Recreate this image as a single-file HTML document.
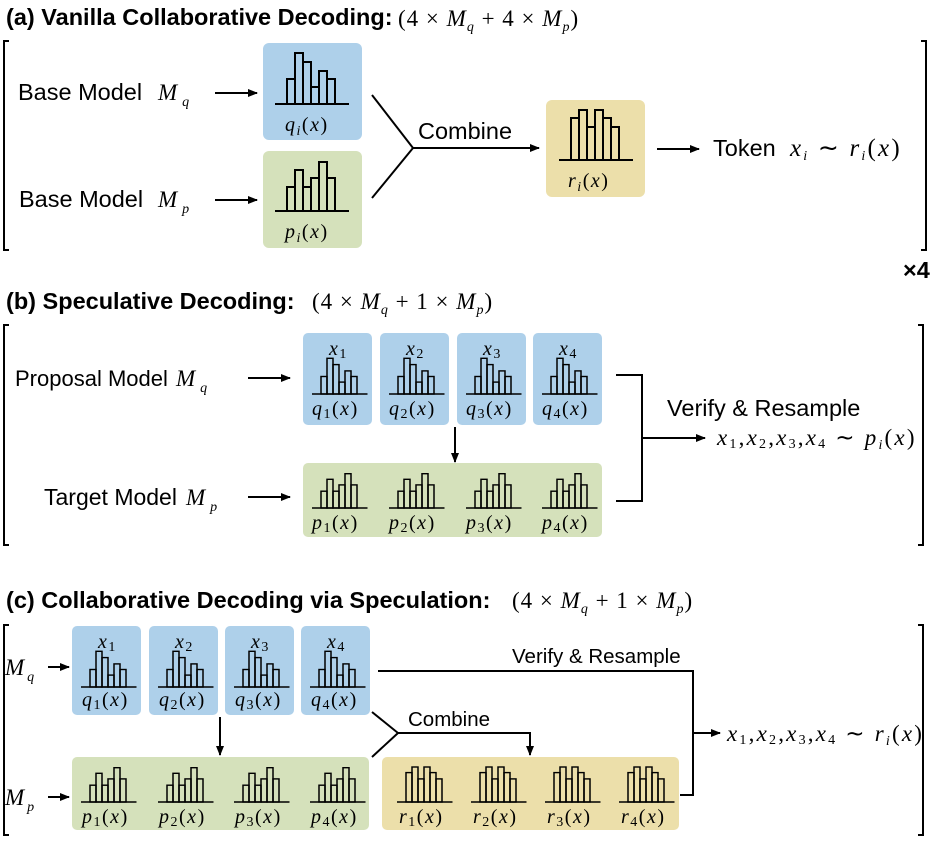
<!DOCTYPE html>
<html><head><meta charset="utf-8"><style>
body{margin:0;background:#fff}
svg{display:block}
.t{font-family:"Liberation Sans",sans-serif;font-weight:bold;font-size:23.5px}
.s{font-family:"Liberation Sans",sans-serif;font-size:23.5px}
.m{font-family:"Liberation Serif",serif;font-style:italic;font-size:23px;letter-spacing:1px}
.mw{letter-spacing:2.2px}
.mr{font-family:"Liberation Serif",serif;font-size:23px;letter-spacing:1px}
.b{font-size:20px;letter-spacing:1.5px}
.sm{font-size:14px;font-style:normal}
.si{font-size:14px}
.h rect{fill:none;stroke:#000;stroke-width:2}
.h line{stroke:#000;stroke-width:2}
</style></head><body>
<svg width="932" height="841" viewBox="0 0 932 841" xmlns="http://www.w3.org/2000/svg">
<defs>
<marker id="ar" markerWidth="10" markerHeight="8" refX="9" refY="4" orient="auto" markerUnits="userSpaceOnUse"><path d="M0,0 L10,4 L0,8 z" fill="#000"/></marker>
<g id="hq" class="h"><rect x="0" y="-25" width="8" height="25"/><rect x="8" y="-51" width="8" height="51"/><rect x="16" y="-42" width="8" height="42"/><rect x="24" y="-17" width="8" height="17"/><rect x="32" y="-33" width="8" height="33"/><rect x="40" y="-25" width="8" height="25"/><line x1="-12" y1="0" x2="62" y2="0"/></g>
<g id="hp" class="h"><rect x="0" y="-24" width="8" height="24"/><rect x="8" y="-41" width="8" height="41"/><rect x="16" y="-24" width="8" height="24"/><rect x="24" y="-33" width="8" height="33"/><rect x="32" y="-49" width="8" height="49"/><rect x="40" y="-33" width="8" height="33"/><line x1="-12" y1="0" x2="62" y2="0"/></g>
<g id="hr" class="h"><rect x="0" y="-42" width="8" height="42"/><rect x="8" y="-50" width="8" height="50"/><rect x="16" y="-33" width="8" height="33"/><rect x="24" y="-50" width="8" height="50"/><rect x="32" y="-42" width="8" height="42"/><rect x="40" y="-33" width="8" height="33"/><line x1="-12" y1="0" x2="62" y2="0"/></g>
</defs>
<g stroke="#000" stroke-width="2" fill="none">
<path d="M9,41H4V250H9"/><path d="M921,41H926V250H921"/>
<path d="M9,325H4V545H9"/><path d="M918,325H923V545H918"/>
<path d="M9,625H4V835H9"/><path d="M918,625H923V835H918"/>
</g>
<!-- (a) -->
<text class="t" x="6" y="25">(a) Vanilla Collaborative Decoding:</text>
<text class="mr" x="398" y="26">(4 × <tspan font-style="italic">M</tspan><tspan class="si" font-style="italic" dy="5">q</tspan><tspan dy="-5"> + 4 × </tspan><tspan font-style="italic">M</tspan><tspan class="si" font-style="italic" dy="5">p</tspan><tspan dy="-5">)</tspan></text>
<rect x="263" y="43" width="99" height="97" rx="6" fill="#aed0ea"/>
<rect x="263" y="151" width="99" height="97" rx="6" fill="#d5e1bb"/>
<rect x="546" y="100" width="99" height="97" rx="6" fill="#ecdfaa"/>
<use href="#hq" x="287" y="104"/>
<use href="#hp" x="287" y="211"/>
<use href="#hr" x="571" y="160"/>
<text class="m b" x="285" y="131">q<tspan class="si" dy="4">i</tspan><tspan dy="-4" font-style="normal">(</tspan>x<tspan font-style="normal">)</tspan></text>
<text class="m b" x="285" y="238">p<tspan class="si" dy="4">i</tspan><tspan dy="-4" font-style="normal">(</tspan>x<tspan font-style="normal">)</tspan></text>
<text class="m b" x="568" y="187">r<tspan class="si" dy="4">i</tspan><tspan dy="-4" font-style="normal">(</tspan>x<tspan font-style="normal">)</tspan></text>
<text class="s" x="18" y="100">Base Model</text>
<text class="m" x="158" y="100">M<tspan class="si" dx="4" dy="6">q</tspan></text>
<text class="s" x="19" y="207">Base Model</text>
<text class="m" x="158" y="207">M<tspan class="si" dx="4" dy="6">p</tspan></text>
<g stroke="#000" stroke-width="2" fill="none">
<path d="M215,93H257" marker-end="url(#ar)"/>
<path d="M215,200H257" marker-end="url(#ar)"/>
<path d="M372,95L413,148L372,198M413,148H535"/><path d="M500,148H539" marker-end="url(#ar)"/>
<path d="M657,149H699" marker-end="url(#ar)"/>
</g>
<text class="s" x="418" y="139">Combine</text>
<text class="s" x="713" y="156">Token</text>
<text class="m mw" x="790" y="156" style="font-size:25px">x<tspan class="si" dy="4">i</tspan><tspan dy="-4" font-style="normal"> ∼ </tspan>r<tspan class="si" dy="4">i</tspan><tspan dy="-4" font-style="normal">(</tspan>x<tspan font-style="normal">)</tspan></text>
<text class="t" x="903" y="278">×4</text>
<!-- (b) -->
<text class="t" x="6" y="309">(b) Speculative Decoding:</text>
<text class="mr" x="312" y="309">(4 × <tspan font-style="italic">M</tspan><tspan class="si" font-style="italic" dy="5">q</tspan><tspan dy="-5"> + 1 × </tspan><tspan font-style="italic">M</tspan><tspan class="si" font-style="italic" dy="5">p</tspan><tspan dy="-5">)</tspan></text>
<text class="s" x="15" y="386" style="font-size:22px">Proposal Model</text>
<text class="m" x="176" y="386">M<tspan class="si" dx="4" dy="6">q</tspan></text>
<text class="s" x="44" y="505" style="font-size:23px">Target Model</text>
<text class="m" x="186" y="505">M<tspan class="si" dx="4" dy="6">p</tspan></text>
<rect x="303" y="333" width="69" height="92" rx="5" fill="#aed0ea"/>
<rect x="380" y="333" width="69" height="92" rx="5" fill="#aed0ea"/>
<rect x="457" y="333" width="69" height="92" rx="5" fill="#aed0ea"/>
<rect x="533" y="333" width="69" height="92" rx="5" fill="#aed0ea"/>
<rect x="303" y="463" width="299" height="74" rx="5" fill="#d5e1bb"/>
<g transform="translate(321,394) scale(0.75,0.7)"><use href="#hq"/></g>
<g transform="translate(398,394) scale(0.75,0.7)"><use href="#hq"/></g>
<g transform="translate(475,394) scale(0.75,0.7)"><use href="#hq"/></g>
<g transform="translate(551,394) scale(0.75,0.7)"><use href="#hq"/></g>
<g transform="translate(321,508) scale(0.75,0.7)"><use href="#hp"/></g>
<g transform="translate(398,508) scale(0.75,0.7)"><use href="#hp"/></g>
<g transform="translate(475,508) scale(0.75,0.7)"><use href="#hp"/></g>
<g transform="translate(551,508) scale(0.75,0.7)"><use href="#hp"/></g>
<g class="m b">
<text x="329" y="355">x<tspan class="sm" dy="3">1</tspan></text>
<text x="406" y="355">x<tspan class="sm" dy="3">2</tspan></text>
<text x="483" y="355">x<tspan class="sm" dy="3">3</tspan></text>
<text x="559" y="355">x<tspan class="sm" dy="3">4</tspan></text>
<text x="312" y="415">q<tspan class="sm" dy="3">1</tspan><tspan dy="-3" font-style="normal">(</tspan>x<tspan font-style="normal">)</tspan></text>
<text x="389" y="415">q<tspan class="sm" dy="3">2</tspan><tspan dy="-3" font-style="normal">(</tspan>x<tspan font-style="normal">)</tspan></text>
<text x="466" y="415">q<tspan class="sm" dy="3">3</tspan><tspan dy="-3" font-style="normal">(</tspan>x<tspan font-style="normal">)</tspan></text>
<text x="542" y="415">q<tspan class="sm" dy="3">4</tspan><tspan dy="-3" font-style="normal">(</tspan>x<tspan font-style="normal">)</tspan></text>
<text x="312" y="529">p<tspan class="sm" dy="3">1</tspan><tspan dy="-3" font-style="normal">(</tspan>x<tspan font-style="normal">)</tspan></text>
<text x="389" y="529">p<tspan class="sm" dy="3">2</tspan><tspan dy="-3" font-style="normal">(</tspan>x<tspan font-style="normal">)</tspan></text>
<text x="466" y="529">p<tspan class="sm" dy="3">3</tspan><tspan dy="-3" font-style="normal">(</tspan>x<tspan font-style="normal">)</tspan></text>
<text x="542" y="529">p<tspan class="sm" dy="3">4</tspan><tspan dy="-3" font-style="normal">(</tspan>x<tspan font-style="normal">)</tspan></text>
</g>
<g stroke="#000" stroke-width="2" fill="none">
<path d="M248,378H290" marker-end="url(#ar)"/>
<path d="M248,497H290" marker-end="url(#ar)"/>
<path d="M455,427V462" marker-end="url(#ar)"/>
<path d="M616,375H642V501H616"/>
<path d="M642,438H705" marker-end="url(#ar)"/>
</g>
<text class="s" x="667" y="416">Verify &amp; Resample</text>
<text class="m mw" x="717" y="445">x<tspan class="sm" dy="3">1</tspan><tspan dy="-3" font-style="normal">,</tspan>x<tspan class="sm" dy="3">2</tspan><tspan dy="-3" font-style="normal">,</tspan>x<tspan class="sm" dy="3">3</tspan><tspan dy="-3" font-style="normal">,</tspan>x<tspan class="sm" dy="3">4</tspan><tspan dy="-3" font-style="normal"> ∼ </tspan>p<tspan class="si" dy="4">i</tspan><tspan dy="-4" font-style="normal">(</tspan>x<tspan font-style="normal">)</tspan></text>
<!-- (c) -->
<text class="t" x="6" y="608">(c) Collaborative Decoding via Speculation:</text>
<text class="mr" x="512" y="608">(4 × <tspan font-style="italic">M</tspan><tspan class="si" font-style="italic" dy="5">q</tspan><tspan dy="-5"> + 1 × </tspan><tspan font-style="italic">M</tspan><tspan class="si" font-style="italic" dy="5">p</tspan><tspan dy="-5">)</tspan></text>
<text class="m" x="5" y="675">M<tspan class="si" dx="2" dy="6">q</tspan></text>
<text class="m" x="5" y="805">M<tspan class="si" dx="2" dy="6">p</tspan></text>
<rect x="72" y="626" width="69" height="89" rx="5" fill="#aed0ea"/>
<rect x="149" y="626" width="69" height="89" rx="5" fill="#aed0ea"/>
<rect x="225" y="626" width="69" height="89" rx="5" fill="#aed0ea"/>
<rect x="301" y="626" width="69" height="89" rx="5" fill="#aed0ea"/>
<rect x="72" y="757" width="297" height="73" rx="5" fill="#d5e1bb"/>
<rect x="382" y="757" width="297" height="73" rx="5" fill="#ecdfaa"/>
<g transform="translate(90,687) scale(0.75,0.7)"><use href="#hq"/></g>
<g transform="translate(167,687) scale(0.75,0.7)"><use href="#hq"/></g>
<g transform="translate(243,687) scale(0.75,0.7)"><use href="#hq"/></g>
<g transform="translate(319,687) scale(0.75,0.7)"><use href="#hq"/></g>
<g transform="translate(90,802) scale(0.75,0.7)"><use href="#hp"/></g>
<g transform="translate(167,802) scale(0.75,0.7)"><use href="#hp"/></g>
<g transform="translate(243,802) scale(0.75,0.7)"><use href="#hp"/></g>
<g transform="translate(319,802) scale(0.75,0.7)"><use href="#hp"/></g>
<g transform="translate(406,802) scale(0.75,0.7)"><use href="#hr"/></g>
<g transform="translate(480,802) scale(0.75,0.7)"><use href="#hr"/></g>
<g transform="translate(554,802) scale(0.75,0.7)"><use href="#hr"/></g>
<g transform="translate(628,802) scale(0.75,0.7)"><use href="#hr"/></g>
<g class="m b">
<text x="98" y="648">x<tspan class="sm" dy="3">1</tspan></text>
<text x="175" y="648">x<tspan class="sm" dy="3">2</tspan></text>
<text x="251" y="648">x<tspan class="sm" dy="3">3</tspan></text>
<text x="327" y="648">x<tspan class="sm" dy="3">4</tspan></text>
<text x="82" y="706">q<tspan class="sm" dy="3">1</tspan><tspan dy="-3" font-style="normal">(</tspan>x<tspan font-style="normal">)</tspan></text>
<text x="159" y="706">q<tspan class="sm" dy="3">2</tspan><tspan dy="-3" font-style="normal">(</tspan>x<tspan font-style="normal">)</tspan></text>
<text x="235" y="706">q<tspan class="sm" dy="3">3</tspan><tspan dy="-3" font-style="normal">(</tspan>x<tspan font-style="normal">)</tspan></text>
<text x="311" y="706">q<tspan class="sm" dy="3">4</tspan><tspan dy="-3" font-style="normal">(</tspan>x<tspan font-style="normal">)</tspan></text>
<text x="82" y="823">p<tspan class="sm" dy="3">1</tspan><tspan dy="-3" font-style="normal">(</tspan>x<tspan font-style="normal">)</tspan></text>
<text x="159" y="823">p<tspan class="sm" dy="3">2</tspan><tspan dy="-3" font-style="normal">(</tspan>x<tspan font-style="normal">)</tspan></text>
<text x="235" y="823">p<tspan class="sm" dy="3">3</tspan><tspan dy="-3" font-style="normal">(</tspan>x<tspan font-style="normal">)</tspan></text>
<text x="311" y="823">p<tspan class="sm" dy="3">4</tspan><tspan dy="-3" font-style="normal">(</tspan>x<tspan font-style="normal">)</tspan></text>
<text x="399" y="823">r<tspan class="sm" dy="3">1</tspan><tspan dy="-3" font-style="normal">(</tspan>x<tspan font-style="normal">)</tspan></text>
<text x="473" y="823">r<tspan class="sm" dy="3">2</tspan><tspan dy="-3" font-style="normal">(</tspan>x<tspan font-style="normal">)</tspan></text>
<text x="547" y="823">r<tspan class="sm" dy="3">3</tspan><tspan dy="-3" font-style="normal">(</tspan>x<tspan font-style="normal">)</tspan></text>
<text x="621" y="823">r<tspan class="sm" dy="3">4</tspan><tspan dy="-3" font-style="normal">(</tspan>x<tspan font-style="normal">)</tspan></text>
</g>
<g stroke="#000" stroke-width="2" fill="none">
<path d="M48,667H69" marker-end="url(#ar)"/>
<path d="M48,797H69" marker-end="url(#ar)"/>
<path d="M220,717V755" marker-end="url(#ar)"/>
<path d="M372,712L398,733L372,757M398,733H530V755" marker-end="url(#ar)"/>
<path d="M378,671H693V795H680"/>
<path d="M693,733H720" marker-end="url(#ar)"/>
</g>
<text class="s" x="408" y="726" style="font-size:20.5px">Combine</text>
<text class="s" x="512" y="663" style="font-size:20.5px">Verify &amp; Resample</text>
<text class="m mw" x="727" y="741">x<tspan class="sm" dy="3">1</tspan><tspan dy="-3" font-style="normal">,</tspan>x<tspan class="sm" dy="3">2</tspan><tspan dy="-3" font-style="normal">,</tspan>x<tspan class="sm" dy="3">3</tspan><tspan dy="-3" font-style="normal">,</tspan>x<tspan class="sm" dy="3">4</tspan><tspan dy="-3" font-style="normal"> ∼ </tspan>r<tspan class="si" dy="4">i</tspan><tspan dy="-4" font-style="normal">(</tspan>x<tspan font-style="normal">)</tspan></text>
</svg>
</body></html>
